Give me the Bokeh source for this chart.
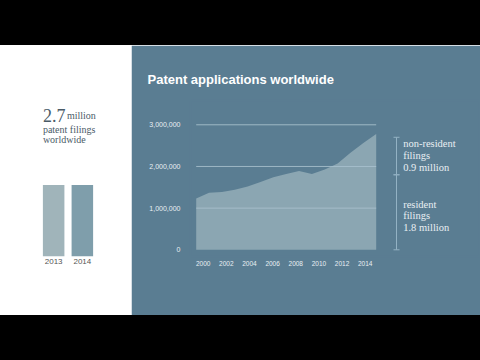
from bokeh.plotting import figure
from bokeh.models import (ColumnDataSource, Range1d, FactorRange, LinearAxis, CategoricalAxis,
                          FixedTicker, NumeralTickFormatter, Whisker, TeeHead, Title, Div)
from bokeh.layouts import column, row
from bokeh.core.properties import value
from bokeh.embed import file_html
from bokeh.resources import INLINE

# ---------------- data ----------------
years = list(range(2000, 2015))
applications = [1230000, 1370000, 1390000, 1440000, 1520000, 1630000, 1740000, 1820000,
                1890000, 1820000, 1930000, 2070000, 2330000, 2560000, 2780000]
tick_years = [2000, 2002, 2004, 2006, 2008, 2010, 2012, 2014]
y_ticks = [0, 1000000, 2000000, 3000000]
split_names = ["resident\nfilings", "non-resident\nfilings"]
split_values = [1800000, 900000]
side_years = ["2013", "2014"]
side_totals = [2700000, 2700000]
title_text = "Patent applications worldwide"

# ---------------- styles ----------------
BLUE = "#5a7d92"
AREA = "#8ba6b2"
GRID = "#a9c2ce"
BRACKET = "#93b2c4"
LIGHT_TXT = "#e9eff2"
DARK_TXT = "#4a5b67"
BAR_COLORS = ["#a0b4ba", "#7f9eab"]
SANS = "Liberation Sans"
SERIF = "Liberation Serif"

W, BAND = 480, 45
H = 270
BT, BB = 55, 59           # shared top / bottom borders of both panels
FH = H - BT - BB

# ---------------- right panel (area chart) ----------------
WR = 349
bl = 59
fw = WR - bl
ppy = 180.0 / (years[-1] - years[0])       # px per year
x0px = 5.7                                   # first year from frame left
ppv = 41.67 / 1e6                            # px per filing
y0px = 6.7                                   # zero above frame bottom
xr = Range1d(years[0] - x0px / ppy, years[0] + (fw - x0px) / ppy)
yr = Range1d(-y0px / ppv, (FH - y0px) / ppv)

pr = figure(width=WR, height=H, x_range=xr, y_range=yr, output_backend="svg",
            toolbar_location=None, x_axis_type=None, y_axis_type=None,
            min_border_left=bl, min_border_right=0, min_border_top=BT, min_border_bottom=BB,
            background_fill_color=BLUE, border_fill_color=BLUE,
            outline_line_color=BLUE, outline_line_width=2)

src = ColumnDataSource(dict(year=years, apps=applications))
pr.varea(x="year", y1=0, y2="apps", source=src, fill_color=AREA, fill_alpha=1.0)

gsrc = ColumnDataSource(dict(t=[t for t in y_ticks if t > 0]))
pr.segment(x0=years[0], x1=years[-1], y0="t", y1="t", source=gsrc,
           line_color=GRID, line_width=1, line_alpha=0.85)

yaxis = LinearAxis(ticker=FixedTicker(ticks=y_ticks), formatter=NumeralTickFormatter(format="0,0"),
                   axis_line_color=None, major_tick_line_color=None, minor_tick_line_color=None,
                   major_tick_out=0, major_tick_in=0, major_label_standoff=10,
                   major_label_text_color=LIGHT_TXT, major_label_text_font_size="7px",
                   major_label_text_font=SANS)
pr.add_layout(yaxis, "left")

# tick labels sit on their own (slightly narrower) scale, as in the original graphic
lpy = 11.57
lx0 = 12.7
pr.extra_x_ranges = {"lbl": Range1d(tick_years[0] - lx0 / lpy, tick_years[0] + (fw - lx0) / lpy)}
xaxis = LinearAxis(x_range_name="lbl", ticker=FixedTicker(ticks=tick_years),
                   axis_line_color=None, major_tick_line_color=None, minor_tick_line_color=None,
                   major_tick_out=0, major_tick_in=0, major_label_standoff=4,
                   major_label_text_color=LIGHT_TXT, major_label_text_font_size="6.5px",
                   major_label_text_font=SANS)
pr.add_layout(xaxis, "below")

pr.add_layout(Title(text=title_text, align="left", offset=-43, standoff=27, text_color="white",
                    text_font_size="13px", text_font=SANS, text_font_style="bold"), "above")

# bracket for resident / non-resident split
lows, highs = [], []
acc = 0
for v in split_values:
    lows.append(acc)
    highs.append(acc + v)
    acc += v
bx = xr.start + (396 - 131 - bl) / ppy
wsrc = ColumnDataSource(dict(base=[bx] * len(split_values), lo=lows, hi=highs))
pr.add_layout(Whisker(source=wsrc, base="base", lower="lo", upper="hi", dimension="height",
                      line_color=BRACKET, line_width=1,
                      lower_head=TeeHead(size=6, line_color=BRACKET, line_width=1),
                      upper_head=TeeHead(size=6, line_color=BRACKET, line_width=1)))

tx = xr.start + (402.7 - 131 - bl) / ppy
tsrc = ColumnDataSource(dict(
    x=[tx] * len(split_values),
    y=[(a + b) / 2 for a, b in zip(lows, highs)],
    text=[f"{n}\n{v / 1e6:.1f} million" for n, v in zip(split_names, split_values)],
    dy=[3.5, -0.5]))
pr.text(x="x", y="y", text="text", source=tsrc, y_offset="dy", text_align="left",
        text_baseline="middle", text_color=LIGHT_TXT, text_font=value(SERIF),
        text_font_size="10.5px", text_line_height=1.05)

# ---------------- left panel (summary bars) ----------------
WL = W - WR
bll = 4
unit = 28.7
bar_w = 0.75
pad = ((WL - bll) / unit - len(side_years)) / 2
ppl = 26.56 / 1e6
z0 = (H - BB) - (255.7 - BAND)     # zero position relative to frame bottom (px, negative = below)
yl = Range1d(z0 / ppl, (FH + z0) / ppl)
pl = figure(width=WL, height=H, output_backend="svg", toolbar_location=None,
            x_range=FactorRange(*side_years, range_padding=pad, range_padding_units="absolute"),
            y_range=yl, x_axis_type=None, y_axis_type=None,
            min_border_left=bll, min_border_right=0, min_border_top=BT, min_border_bottom=BB,
            background_fill_color="white", border_fill_color="white",
            outline_line_color="white", outline_line_width=2)

bsrc = ColumnDataSource(dict(year=side_years, total=side_totals, color=BAR_COLORS))
pl.vbar(x="year", top="total", width=bar_w, bottom=0, source=bsrc, fill_color="color", line_color=None)
cax = CategoricalAxis(axis_line_color=None, major_tick_line_color=None, minor_tick_line_color=None,
                      major_tick_out=0, major_tick_in=0, major_label_standoff=2,
                      major_label_text_color="#555555", major_label_text_font_size="8px",
                      major_label_text_font=SANS)
pl.add_layout(cax, "below")

half = bar_w * unit / 2
total_m = sum(split_values) / 1e6
hsrc = ColumnDataSource(dict(
    x=[side_years[0]] * 4,
    y=[side_totals[-1]] * 4,
    text=[f"{total_m:.1f}", "million", "patent filings", "worldwide"],
    size=["18px", "10px", "10px", "10px"],
    dx=[-half, -half + 24, -half, -half],
    dy=[-69.5, -69.5, -56, -45.5]))
pl.text(x="x", y="y", text="text", source=hsrc, x_offset="dx", y_offset="dy",
        text_font_size="size", text_align="left", text_baseline="alphabetic",
        text_color=DARK_TXT, text_font=value(SERIF))

top_band = Div(text="", width=W, height=BAND, margin=0, styles={"background-color": "#000000"})
bot_band = Div(text="", width=W, height=BAND, margin=0, styles={"background-color": "#000000"})
layout = column(top_band, row(pl, pr, spacing=0), bot_band, spacing=0)

open("out.html", "w").write(file_html(layout, INLINE))
